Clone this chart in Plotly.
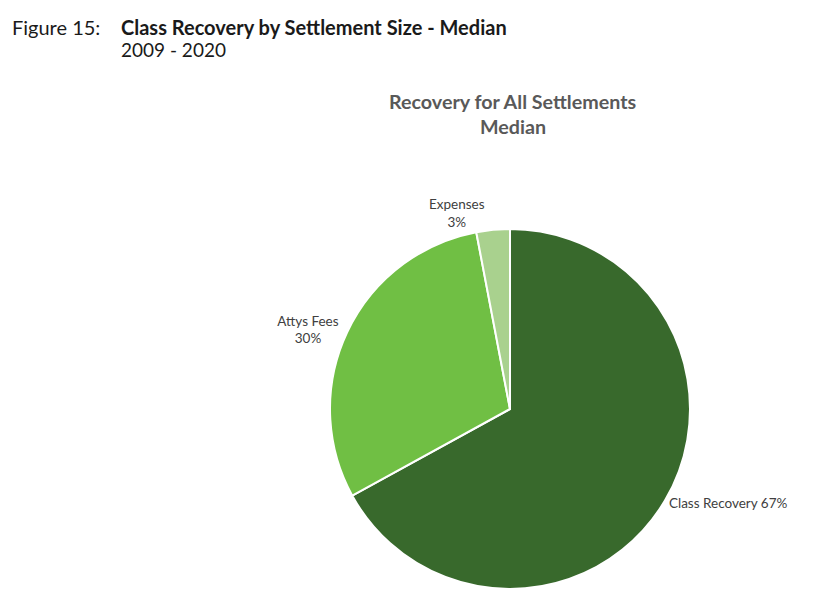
import plotly.graph_objects as go

labels = ["Class Recovery", "Attys Fees", "Expenses"]
values = [67, 30, 3]
colors = ["#38692C", "#70BF44", "#A9D18E"]
separators = [" ", "<br>", "<br>"]

W, H = 828, 599
cx, cy, r = 510, 409, 180

texts = [f"{l}{s}{v}%" for l, s, v in zip(labels, separators, values)]

fig = go.Figure(go.Pie(
    labels=labels,
    values=values,
    text=texts,
    textinfo="text",
    textposition="outside",
    sort=False,
    direction="clockwise",
    rotation=0,
    marker=dict(colors=colors, line=dict(color="white", width=2)),
    textfont=dict(family="Lato", size=13.5, color="#404040"),
    domain=dict(x=[(cx - r) / W, (cx + r) / W], y=[1 - (cy + r) / H, 1 - (cy - r) / H]),
    showlegend=False,
    hoverinfo="label+percent",
    automargin=False,
))

fig.update_layout(
    width=W, height=H,
    margin=dict(l=0, r=0, t=0, b=0),
    paper_bgcolor="white",
    plot_bgcolor="white",
    annotations=[
        dict(text="Figure 15:", x=10 / W, y=1 - 27 / H, xref="paper", yref="paper",
             xanchor="left", yanchor="middle", showarrow=False,
             font=dict(family="Lato", size=20, color="#1a1a1a")),
        dict(text="<b>Class Recovery by Settlement Size - Median</b>", x=119 / W, y=1 - 27 / H,
             xref="paper", yref="paper", xanchor="left", yanchor="middle", showarrow=False,
             font=dict(family="Lato", size=20, color="#1a1a1a")),
        dict(text="2009 - 2020", x=119 / W, y=1 - 49 / H, xref="paper", yref="paper",
             xanchor="left", yanchor="middle", showarrow=False,
             font=dict(family="Lato", size=19, color="#1a1a1a")),
        dict(text="<b>Recovery for All Settlements</b>", x=513 / W, y=1 - 101 / H,
             xref="paper", yref="paper", xanchor="center", yanchor="middle", showarrow=False,
             font=dict(family="Lato", size=19.7, color="#595959")),
        dict(text="<b>Median</b>", x=513 / W, y=1 - 126 / H,
             xref="paper", yref="paper", xanchor="center", yanchor="middle", showarrow=False,
             font=dict(family="Lato", size=19.7, color="#595959")),
    ],
)

fig.write_html("out.html")
